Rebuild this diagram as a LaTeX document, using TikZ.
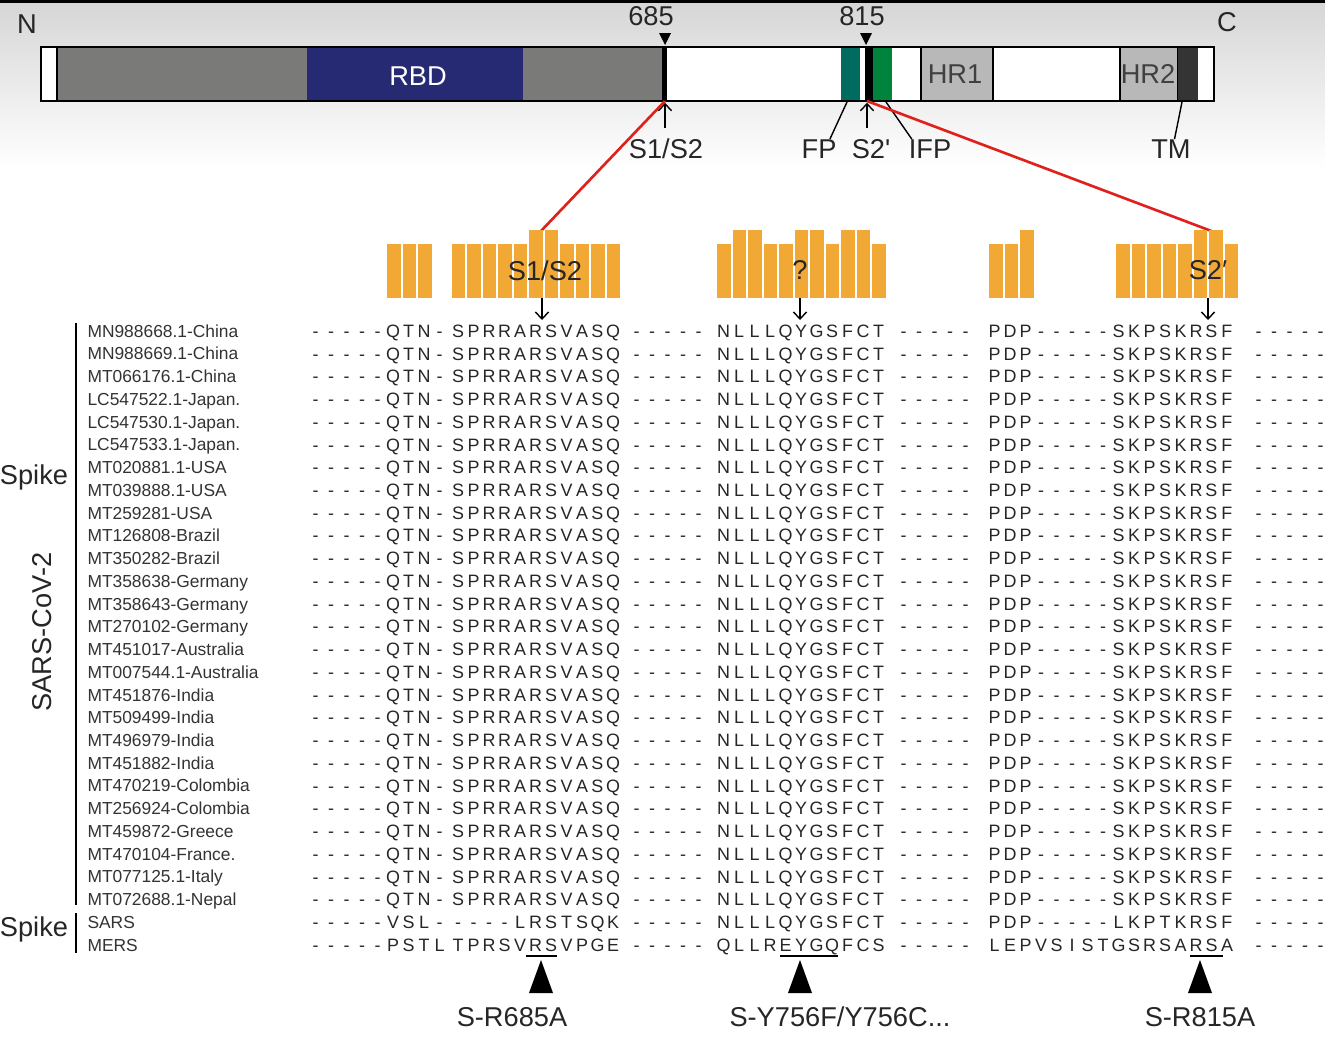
\documentclass[tikz,border=0pt]{standalone}
\usepackage{fontspec}
\setmainfont{Liberation Sans}
\usepackage{xcolor}
\usetikzlibrary{arrows.meta,positioning}

\definecolor{barorange}{RGB}{241,168,52}
\definecolor{rbdblue}{RGB}{38,42,114}
\definecolor{fpteal}{RGB}{0,107,94}
\definecolor{ifpgreen}{RGB}{0,132,61}
\definecolor{domgray}{RGB}{122,122,120}
\definecolor{hrgray}{RGB}{184,184,184}
\definecolor{tmdark}{RGB}{52,52,52}
\definecolor{cutred}{RGB}{224,32,27}

% one amino acid per fixed column
\newlength\colw \setlength\colw{8.82pt}
\def\spreadseq#1{\ifx#1\relax\else\makebox[\colw]{#1}\expandafter\spreadseq\fi}
\newcommand\aaseq[1]{\spreadseq#1\relax}

% conservation bars, #1 = centre of first column, #2 = tops
\newcommand\aabars[2]{%
  \foreach \h [count=\k from 0] in {#2}
    \fill[barorange] ({#1+15.5*\k-6.6},\h) rectangle ({#1+15.5*\k+6.6},298);}

\begin{document}
\begin{tikzpicture}[x=0.02cm, y=-0.02cm, >={Straight Barb[length=4pt,width=7.5pt]}, semithick]

  \tikzstyle{big}=[font=\fontsize{15.5}{18}\selectfont, text=black!85, inner sep=0pt]
  \tikzstyle{seqlabel}=[font=\fontsize{9.9}{12}\selectfont, text=black!80, anchor=west, inner sep=0pt, text height=7pt, text depth=0pt]
  \tikzstyle{aa}=[font=\fontsize{10.2}{12}\selectfont, text=black!85, anchor=west, inner sep=0pt, text height=7.2pt, text depth=0pt]
  \tikzstyle{sitemark}=[line width=0.9pt]
  \tikzstyle{pointer}=[line width=0.8pt]

  \useasboundingbox (0,0) rectangle (1325,1042);
  \fill[white] (0,0) rectangle (1325,1042);
  \shade[top color=black!16, bottom color=white] (0,3) rectangle (1325,168);
  \fill[black] (0,0) rectangle (1325,3);

  % spike protein
  \draw[fill=white, line width=1pt] (41,47) rectangle (1214,101);
  \fill[domgray] (57,47) rectangle (307,101);
  \fill[rbdblue] (307,47) rectangle (523,101);
  \fill[domgray] (523,47) rectangle (662,101);
  \fill[black] (662,47) rectangle (667,101);
  \fill[fpteal] (841,47) rectangle (860,101);
  \fill[black] (865,47) rectangle (873,101);
  \fill[ifpgreen] (873,47) rectangle (892,101);
  \draw[fill=hrgray, line width=1pt] (921,47) rectangle (993,101);
  \draw[fill=hrgray, line width=1pt] (1120,47) rectangle (1178,101);
  \fill[tmdark] (1178,47) rectangle (1198,101);
  \draw[line width=1pt] (41,47) rectangle (1214,101);
  \draw[line width=1pt] (57,47) -- (57,101);

  \node[big] (nterm) at (27,24) {N};
  \node[big] (cterm) at (1227,22) {C};
  \node[big, text=white] (rbd) at (418,76) {RBD};
  \node[big, text=black!75] (hr1) at (955,74) {HR1};
  \node[big, text=black!75] (hr2) at (1148,74) {HR2};

  \node[big] (p685) at (651,16) {685};
  \node[big] (p815) at (862,16) {815};
  \fill (659,33) -- (671,33) -- (665,45) -- cycle;
  \fill (860,33) -- (872,33) -- (866,45) -- cycle;

  \node[big] (s12) at (666,149) {S1/S2};
  \node[big] (fp) at (819,149) {FP};
  \node[big] (s2p) at (871,149) {S2\textquotesingle};
  \node[big] (ifp) at (930,149) {IFP};
  \node[big] (tm) at (1171,149) {TM};

  \coordinate (cut1) at (665,101);
  \coordinate (cut2) at (867,101);
  \coordinate (fpend) at (847,102);
  \coordinate (ifpend) at (886,102);
  \coordinate (tmend) at (1182,102);
  \draw[pointer, ->, shorten <=6pt, shorten >=1pt] (s12.north -| cut1) -- (cut1);
  \draw[pointer, ->, shorten <=6pt, shorten >=1pt] (s2p.north -| cut2) -- (cut2);
  \draw[pointer] ([xshift=-4pt]fp.north east) -- (fpend);
  \draw[pointer] ([xshift=2pt]ifp.north west) -- (ifpend);
  \draw[pointer] ([xshift=2pt]tm.north) -- (tmend);

  % zoom lines to the cleavage sites
  \coordinate (top685) at (541,231);
  \coordinate (top815) at (1214,232);
  \draw[cutred, line width=1.5pt] (cut1) -- (top685);
  \draw[cutred, line width=1.5pt] (cut2) -- (top815);

  \aabars{394}{244,244,244}
  \aabars{458.5}{244,244,244,244,244,230,230,244,244,244,244}
  \aabars{724}{244,230,230,244,244,230,230,244,230,230,244}
  \aabars{996}{244,244,230}
  \aabars{1123}{244,244,244,244,244,230,230,244}

  \node[big] (site1) at (545,271) {S1/S2};
  \node[big] (site2) at (800,270) {?};
  \node[big] (site3) at (1208,270) {S2′};
  \foreach \x [count=\j] in {542,800,1208} {
    \coordinate (down\j) at (\x,298);
    \coordinate (aa\j) at (\x,320);
    \draw[pointer, ->] (down\j) -- (aa\j);
  }

  % alignment
  \foreach \lab [count=\i] in {MN988668.1-China, MN988669.1-China, MT066176.1-China,
      LC547522.1-Japan., LC547530.1-Japan., LC547533.1-Japan., MT020881.1-USA,
      MT039888.1-USA, MT259281-USA, MT126808-Brazil, MT350282-Brazil,
      MT358638-Germany, MT358643-Germany, MT270102-Germany, MT451017-Australia,
      MT007544.1-Australia, MT451876-India, MT509499-India, MT496979-India,
      MT451882-India, MT470219-Colombia, MT256924-Colombia, MT459872-Greece,
      MT470104-France., MT077125.1-Italy, MT072688.1-Nepal} {
    \pgfmathsetmacro\ry{331+22.74*(\i-1)}
    \node[seqlabel] (lab\i) at (87,\ry) {\lab};
    \node[aa] (a\i) at (307.25,\ry) {\aaseq{-----QTN-}};
    \node[aa] (b\i) at (449.75,\ry) {\aaseq{SPRRARSVASQ}};
    \node[aa] (c\i) at (628.25,\ry) {\aaseq{-----}};
    \node[aa] (d\i) at (715.25,\ry) {\aaseq{NLLLQYGSFCT}};
    \node[aa] (e\i) at (895.25,\ry) {\aaseq{-----}};
    \node[aa] (f\i) at (986.25,\ry) {\aaseq{PDP-----SKPSKRSF}};
    \node[aa] (g\i) at (1250.25,\ry) {\aaseq{-----}};
  }

  \node[seqlabel] (labsars) at (87,922.2) {SARS};
  \node[aa] (asars) at (307.25,922.2) {\aaseq{-----VSL-}};
  \node[aa] (bsars) at (449.75,922.2) {\aaseq{----LRSTSQK}};
  \node[aa] (csars) at (628.25,922.2) {\aaseq{-----}};
  \node[aa] (dsars) at (715.25,922.2) {\aaseq{NLLLQYGSFCT}};
  \node[aa] (esars) at (895.25,922.2) {\aaseq{-----}};
  \node[aa] (fsars) at (986.25,922.2) {\aaseq{PDP-----LKPTKRSF}};
  \node[aa] (gsars) at (1250.25,922.2) {\aaseq{-----}};

  \node[seqlabel] (labmers) at (87,945) {MERS};
  \node[aa] (amers) at (307.25,945) {\aaseq{-----PSTL}};
  \node[aa] (bmers) at (449.75,945) {\aaseq{TPRSVRSVPGE}};
  \node[aa] (cmers) at (628.25,945) {\aaseq{-----}};
  \node[aa] (dmers) at (715.25,945) {\aaseq{QLLREYGQFCS}};
  \node[aa] (emers) at (895.25,945) {\aaseq{-----}};
  \node[aa] (fmers) at (986.25,945) {\aaseq{LEPVSISTGSRSARSA}};
  \node[aa] (gmers) at (1250.25,945) {\aaseq{-----}};

  \draw[line width=1.1pt] (76,323) -- (76,905);
  \draw[line width=1.1pt] (76,913) -- (76,953);
  \node[big] (spike1) at (34,477) {Spike};
  \node[big, rotate=90] (sarscov2) at (42,632) {SARS-CoV-2};
  \node[big] (spike2) at (34,929) {Spike};

  % mutated sites
  \draw[sitemark] (526,956) -- (557,956);
  \draw[sitemark] (780,956) -- (838,956);
  \draw[sitemark] (1190,956) -- (1223,956);
  \fill (541,960) -- (553,993) -- (529,993) -- cycle;
  \fill (800,960) -- (812,993) -- (788,993) -- cycle;
  \fill (1200,960) -- (1212,993) -- (1188,993) -- cycle;
  \node[big] (mut1) at (512,1017) {S-R685A};
  \node[big] (mut2) at (840,1017) {S-Y756F/Y756C...};
  \node[big] (mut3) at (1200,1017) {S-R815A};

\end{tikzpicture}
\end{document}
